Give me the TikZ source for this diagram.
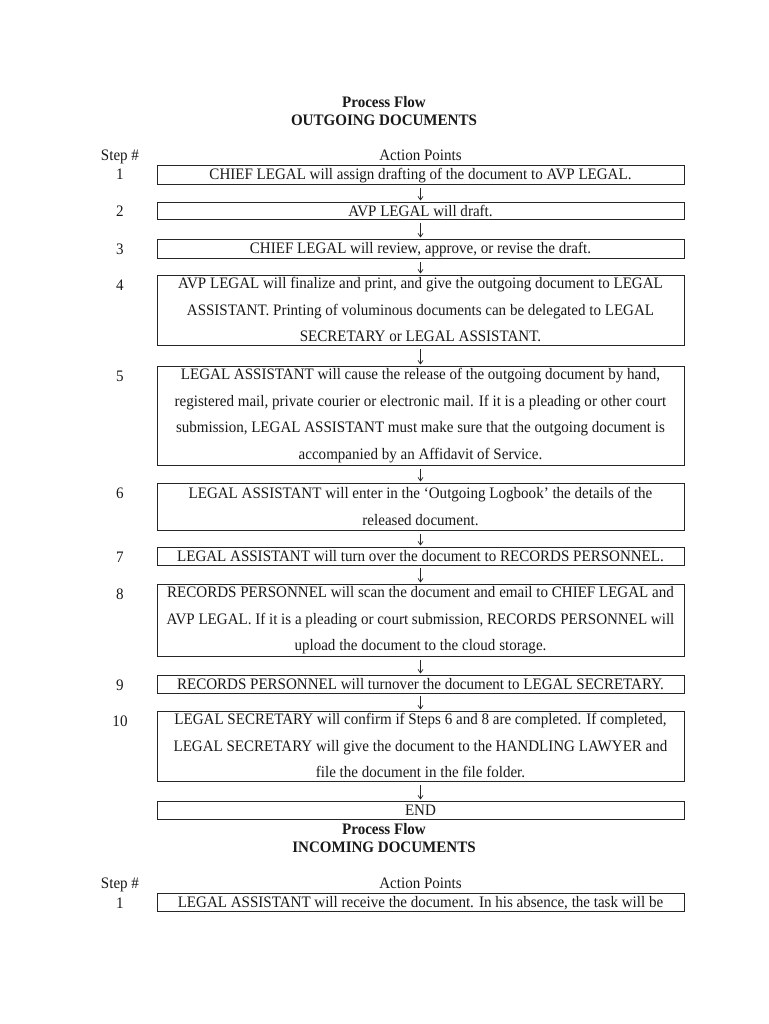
\documentclass[tikz,border=0pt]{standalone}
\usepackage{fontspec}
\setmainfont[FakeStretch=0.94]{Liberation Serif}
\usetikzlibrary{arrows.meta}
\newcommand{\boxstrut}{\rule[-1.5pt]{0pt}{13pt}}
\begin{document}
\begin{tikzpicture}[x=1pt,y=-1pt,
  stepbox/.style={draw=black!85, line width=0.9pt, minimum width=527pt,
    inner xsep=0pt, inner ysep=2.25pt, align=center,
    execute at begin node=\boxstrut, execute at end node=\boxstrut,
    anchor=north, text=black!90,
    font=\fontsize{16}{26.5}\selectfont},
  lbl/.style={anchor=base, inner sep=0pt, text=black!90, font=\fontsize{16}{19}\selectfont},
  ttl/.style={lbl, font=\fontsize{16}{19}\selectfont\bfseries},
  arr/.style={draw=black!85, line width=0.7pt, shorten <=3pt, shorten >=1.5pt,
    -{Straight Barb[length=3.5pt,width=5pt]}}]
\path[use as bounding box, fill=white] (0,0) rectangle (768,1024);

% ---------- OUTGOING ----------
\node[ttl] (t1) at (384,107.2) {Process Flow};
\node[ttl] (t2) at (384,125.5) {OUTGOING DOCUMENTS};
\node[lbl] (sh1) at (120,160.2) {Step \#};
\node[lbl] (ah1) at (420.5,160.2) {Action Points};

\node[stepbox] (o1) at (420.5,165) {CHIEF LEGAL will assign drafting of the document to AVP LEGAL.};
\node[stepbox] (o2) at (420.5,202) {AVP LEGAL will draft.};
\node[stepbox] (o3) at (420.5,239) {CHIEF LEGAL will review, approve, or revise the draft.};
\node[stepbox] (o4) at (420.5,275) {AVP LEGAL will finalize and print, and give the outgoing document to LEGAL\\ASSISTANT. Printing of voluminous documents can be delegated to LEGAL\\SECRETARY or LEGAL ASSISTANT.};
\node[stepbox] (o5) at (420.5,366) {LEGAL ASSISTANT will cause the release of the outgoing document by hand,\\registered mail, private courier or electronic mail. If it is a pleading or other court\\submission, LEGAL ASSISTANT must make sure that the outgoing document is\\accompanied by an Affidavit of Service.};
\node[stepbox, minimum height=47pt] (o6) at (420.5,483) {LEGAL ASSISTANT will enter in the ‘Outgoing Logbook’ the details of the\\released document.};
\node[stepbox] (o7) at (420.5,547) {LEGAL ASSISTANT will turn over the document to RECORDS PERSONNEL.};
\node[stepbox] (o8) at (420.5,584) {RECORDS PERSONNEL will scan the document and email to CHIEF LEGAL and\\AVP LEGAL. If it is a pleading or court submission, RECORDS PERSONNEL will\\upload the document to the cloud storage.};
\node[stepbox] (o9) at (420.5,675) {RECORDS PERSONNEL will turnover the document to LEGAL SECRETARY.};
\node[stepbox] (o10) at (420.5,711) {LEGAL SECRETARY will confirm if Steps 6 and 8 are completed. If completed,\\LEGAL SECRETARY will give the document to the HANDLING LAWYER and\\file the document in the file folder.};
\node[stepbox] (oend) at (420.5,801) {END};

\node[lbl] (n1) at (120,180) {1};
\node[lbl] (n2) at (120,217) {2};
\node[lbl] (n3) at (120,254) {3};
\node[lbl] (n4) at (120,290) {4};
\node[lbl] (n5) at (120,381) {5};
\node[lbl] (n6) at (120,498) {6};
\node[lbl] (n7) at (120,562) {7};
\node[lbl] (n8) at (120,599) {8};
\node[lbl] (n9) at (120,690) {9};
\node[lbl] (n10) at (120,726) {10};

\draw[arr] (o1.south) -- (o2.north);
\draw[arr] (o2.south) -- (o3.north);
\draw[arr] (o3.south) -- (o4.north);
\draw[arr] (o4.south) -- (o5.north);
\draw[arr] (o5.south) -- (o6.north);
\draw[arr] (o6.south) -- (o7.north);
\draw[arr] (o7.south) -- (o8.north);
\draw[arr] (o8.south) -- (o9.north);
\draw[arr] (o9.south) -- (o10.north);
\draw[arr] (o10.south) -- (oend.north);

% ---------- INCOMING ----------
\node[ttl] (t3) at (384,834.5) {Process Flow};
\node[ttl] (t4) at (384,852.5) {INCOMING DOCUMENTS};
\node[lbl] (sh2) at (120,888.5) {Step \#};
\node[lbl] (ah2) at (420.5,888.5) {Action Points};
\node[stepbox] (i1) at (420.5,893) {LEGAL ASSISTANT will receive the document. In his absence, the task will be};
\node[lbl] (m1) at (120,908) {1};
\end{tikzpicture}
\end{document}
